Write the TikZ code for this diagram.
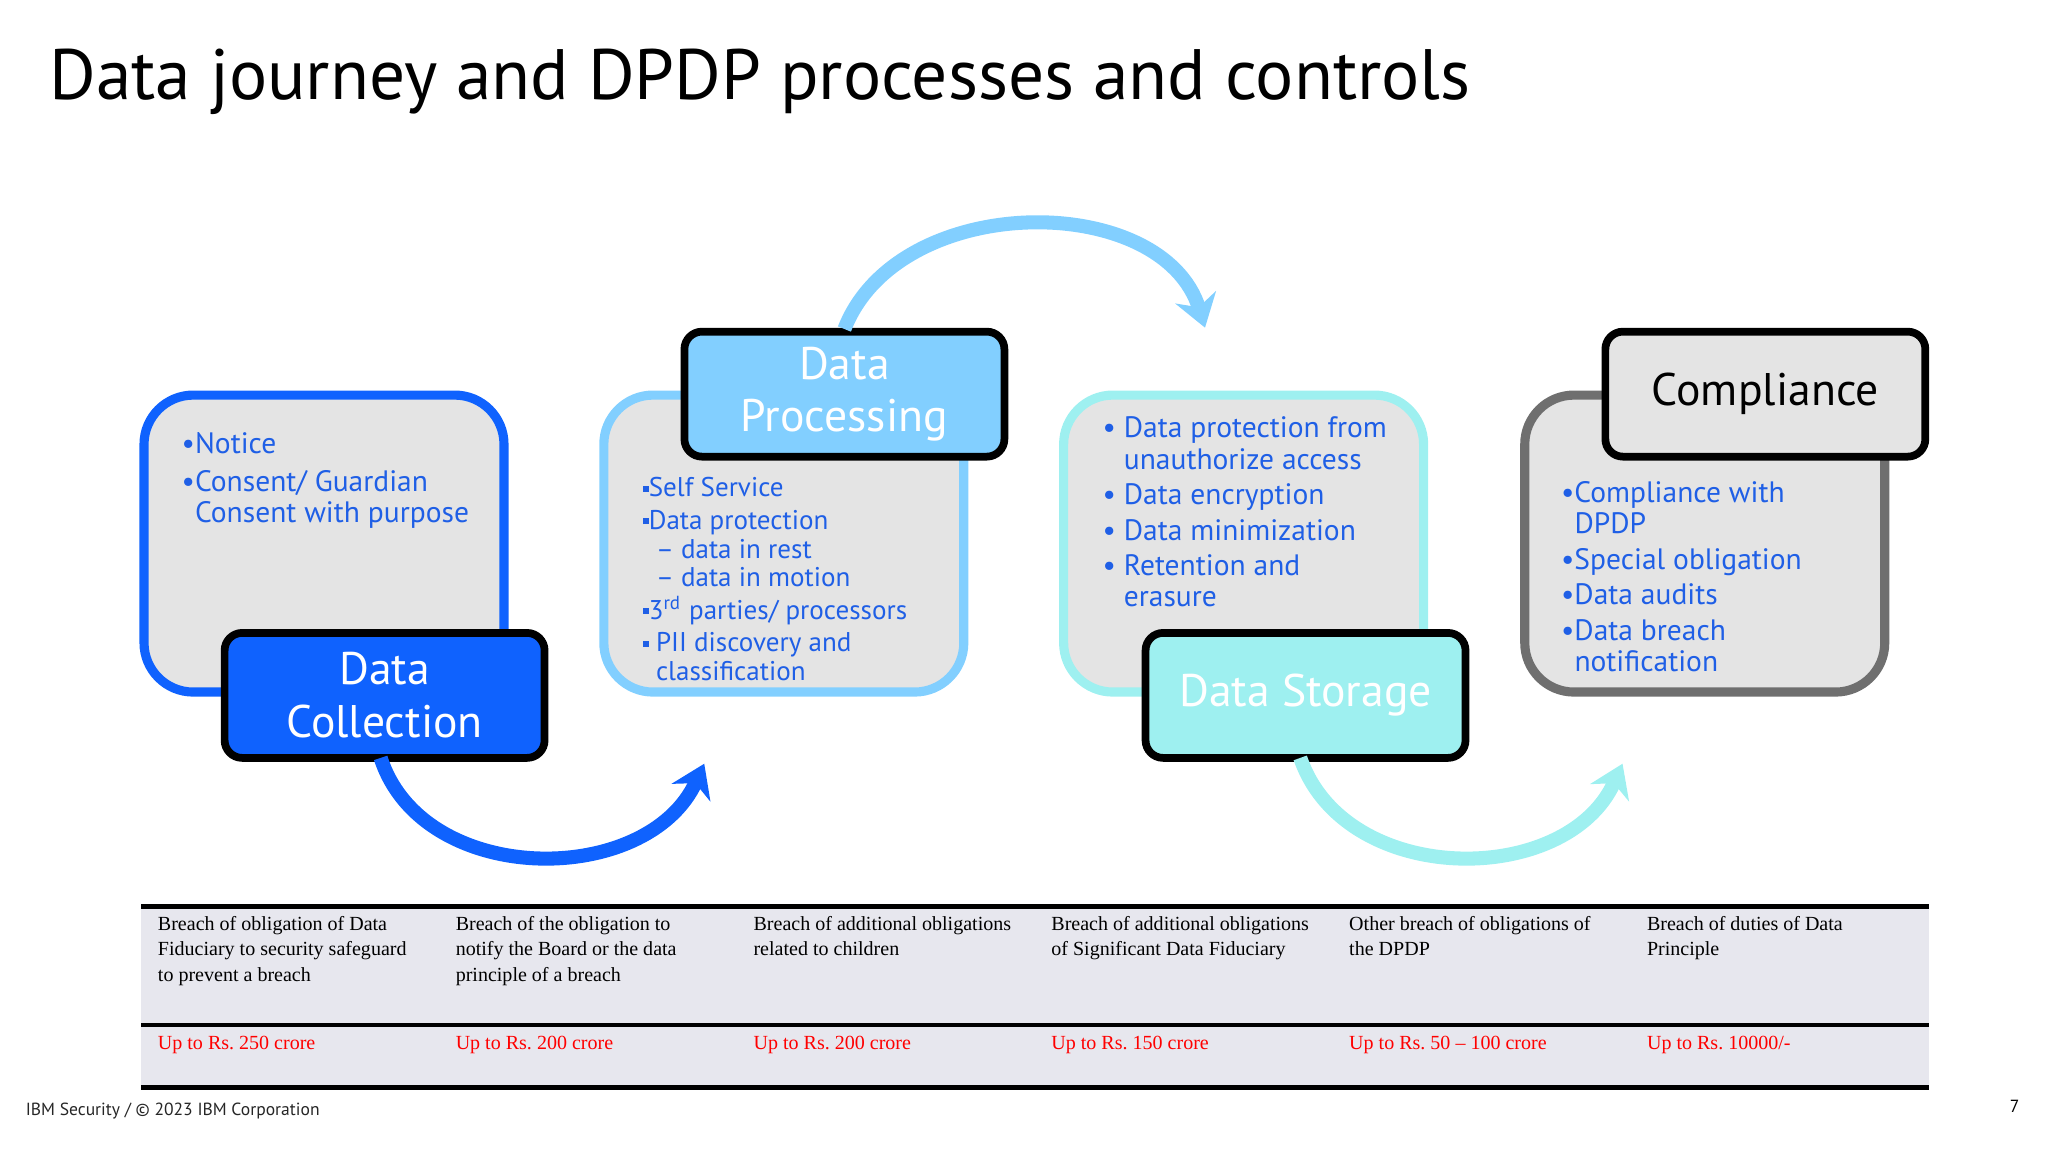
\documentclass[tikz,border=0pt]{standalone}
\usepackage{fontspec}
\setmainfont{PT Sans}
\newfontfamily\tabfont{Liberation Serif}
\usetikzlibrary{arrows.meta}
\definecolor{ibmblue}{HTML}{0F62FE}
\definecolor{procblue}{HTML}{82CFFF}
\definecolor{storcyan}{HTML}{9EF0F0}
\definecolor{boxgray}{HTML}{E4E4E4}
\definecolor{compgray}{HTML}{6F6F6F}
\definecolor{txtblue}{HTML}{1F5FE6}
\definecolor{rowgray}{HTML}{E7E7EE}
\newcommand{\sqb}{\rule[0.2em]{0.22em}{0.22em}}
\tikzset{
  panel/.style={draw=#1, fill=boxgray, line width=2.6pt, rounded corners=14pt,
    minimum width=3.6cm, minimum height=2.97cm, outer sep=0pt},
  stage/.style={draw=black, fill=#1, line width=2.2pt, rounded corners=5pt,
    minimum width=3.2cm, minimum height=1.25cm, align=center, outer sep=0pt,
    font=\fontsize{13}{15}\selectfont},
  items/.style={anchor=north west, align=left, text=txtblue,
    font=\fontsize{8.4}{8.9}\selectfont, inner sep=0pt},
  flow/.style={line width=4pt, -{Stealth[length=9pt,width=12pt]}},
  cell/.style={anchor=north west, align=left, inner sep=0pt,
    font=\tabfont\fontsize{5.7}{7.2}\selectfont},
}
\begin{document}
\begin{tikzpicture}[x=0.013213cm, y=-0.013213cm]
\useasboundingbox (0,0) rectangle (1550,872);

% title
\node[anchor=west, inner sep=0pt, font=\fontsize{20.3}{23}\selectfont] (title) at (37,62) {Data journey and DPDP processes and controls};

% panels
\node[panel=ibmblue, anchor=north west] (p1) at (109,299) {};
\node[panel=procblue, anchor=north west] (p2) at (457,299) {};
\node[panel=storcyan, anchor=north west] (p3) at (805,299) {};
\node[panel=compgray, anchor=north west] (p4) at (1154,299) {};

% stage labels
\node[stage=ibmblue, text=white, anchor=north west] (dc) at (170,479) {Data\\Collection};
\node[stage=procblue, text=white, anchor=north west] (dp) at (518,251) {Data\\Processing};
\node[stage=storcyan, text=white, anchor=north west] (ds) at (867,479) {Data Storage};
\node[stage=boxgray, text=black, anchor=north west] (cp) at (1215,251) {Compliance};

% panel texts
\node[items] (t1) at (137,327) {•Notice\\[1.8pt]•Consent/ Guardian\\\hphantom{•}Consent with purpose};
\node[items, font=\fontsize{7.7}{8.1}\selectfont] (t2) at (486,361) {\sqb Self Service\\[1.2pt]\sqb Data protection\\\hphantom{\sqb} -- data in rest\\\hphantom{\sqb} -- data in motion\\[1.2pt]\sqb 3\textsuperscript{rd} parties/ processors\\[1.2pt]\sqb\ PII discovery and\\\hphantom{\sqb} classification};
\node[items] (t3) at (834,315) {• Data protection from\\\hphantom{• }unauthorize access\\[1.2pt]• Data encryption\\[1.2pt]• Data minimization\\[1.2pt]• Retention and\\\hphantom{• }erasure};
\node[items] (t4) at (1181,364) {•Compliance with\\\hphantom{•}DPDP\\[1.2pt]•Special obligation\\[1.2pt]•Data audits\\[1.2pt]•Data breach\\\hphantom{•}notification};

% flow arrows
\coordinate (a1) at (533,578);
\coordinate (a2) at (912,248);
\coordinate (a3) at (1228,578);
\draw[flow, draw=ibmblue] (dc.south) ++(-3,0) .. controls (320,672) and (490,672) .. (a1);
\draw[flow, draw=procblue] (dp.north) ++(0,-2) .. controls (680,144) and (880,144) .. (a2);
\draw[flow, draw=storcyan] (ds.south) ++(-4,0) .. controls (1018,672) and (1186,672) .. (a3);

% penalty table
\fill[rowgray] (107,686) rectangle (1460,823);
\draw[line width=1.2pt] (107,686) -- (1460,686);
\draw[line width=1.2pt] (107,776) -- (1460,776);
\draw[line width=1.2pt] (107,823) -- (1460,823);
\foreach \i/\txt/\fine in {
  0/{Breach of obligation of Data\\Fiduciary to security safeguard\\to prevent a breach}/{Up to Rs.\ 250 crore},
  1/{Breach of the obligation to\\notify the Board or the data\\principle of a breach}/{Up to Rs.\ 200 crore},
  2/{Breach of additional obligations\\related to children}/{Up to Rs.\ 200 crore},
  3/{Breach of additional obligations\\of Significant Data Fiduciary}/{Up to Rs.\ 150 crore},
  4/{Other breach of obligations of\\the DPDP}/{Up to Rs.\ 50 \textendash\ 100 crore},
  5/{Breach of duties of Data\\Principle}/{Up to Rs.\ 10000/-}} {
  \node[cell] (h\i) at (119+225.4*\i,693) {\txt};
  \node[cell, text=red] (f\i) at (119+225.4*\i,784) {\fine};
}

% footer
\node[anchor=west, inner sep=0pt, font=\fontsize{5}{6}\selectfont, text=black!85] (foot) at (19,841) {IBM Security / © 2023 IBM Corporation};
\node[anchor=east, inner sep=0pt, font=\fontsize{5}{6}\selectfont] (page) at (1529,837) {7};
\end{tikzpicture}
\end{document}
